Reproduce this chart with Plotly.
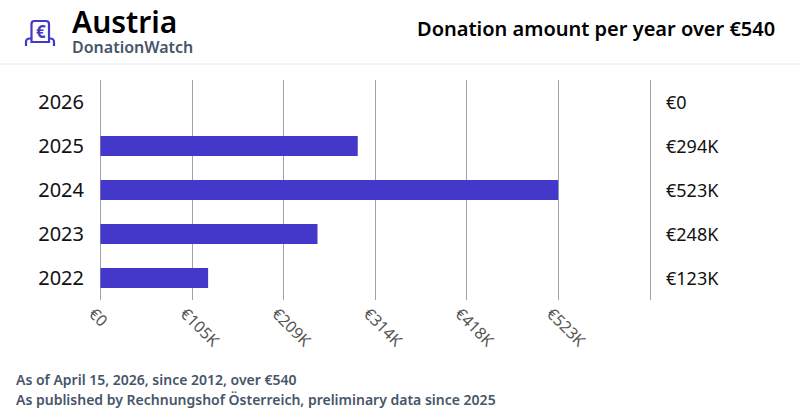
import plotly.graph_objects as go

years = ["2022", "2023", "2024", "2025", "2026"]
amounts = [123000, 248000, 523000, 294000, 0]
value_labels = ["€123K", "€248K", "€523K", "€294K", "€0"]
tick_values = [0, 104600, 209200, 313800, 418400, 523000]
tick_labels = ["€0", "€105K", "€209K", "€314K", "€418K", "€523K"]

FONT = "Noto Sans"
BAR = "#4338ca"
SLATE = "#475569"
GRID = "#9ca3af"
W, H = 800, 418
L, R, T, B = 100, 650, 80, 300


def px(x):
    return (x - L) / (R - L)


def py(y):
    return (B - y) / (B - T)


def text(x, y, s, size, color, weight=400, anchor="left"):
    return dict(
        x=px(x), y=py(y), xref="paper", yref="paper", text=s, showarrow=False,
        xanchor=anchor, yanchor="middle", borderpad=0,
        font=dict(family=FONT, size=size, color=color, weight=weight),
    )


def icon_path(*cmds):
    # each command is a letter followed by pixel pairs measured from the top-left of the page
    out = []
    for c in cmds:
        coords = " ".join(f"{px(c[i]):.5f},{py(c[i + 1]):.5f}" for i in range(1, len(c), 2))
        out.append(f"{c[0]}{coords}")
    return " ".join(out)


fig = go.Figure(
    go.Bar(
        x=amounts, y=years, orientation="h", marker=dict(color=BAR, line_width=0),
        width=0.4545, hoverinfo="skip",
    )
)

annotations = [
    text(71, 22, "Austria", 30, "#000000", 600),
    text(71, 47, "DonationWatch", 16, SLATE, 600),
    text(776, 29, "Donation amount per year over €540", 20, "#000000", 600, "right"),
    text(15, 379, "As of April 15, 2026, since 2012, over €540", 14, SLATE, 600),
    text(15, 399, "As published by Rechnungshof Österreich, preliminary data since 2025", 14, SLATE, 600),
    text(41, 32, "€", 17, BAR, 700, "center"),
]
for i, label in enumerate(value_labels):
    annotations.append(
        dict(
            x=px(665), y=i, xref="paper", yref="y", text=label, showarrow=False,
            xanchor="left", yanchor="middle", borderpad=0,
            font=dict(family=FONT, size=18, color="#111111"),
        )
    )

icon_line = dict(color=BAR, width=2.2)
shapes = [
    # header rule
    dict(type="line", xref="paper", yref="paper", x0=px(0), x1=px(800), y0=py(64), y1=py(64),
         line=dict(color="#e2e8f0", width=1)),
    # closing gridline at the far end of the value axis
    dict(type="line", xref="paper", yref="paper", x0=px(650.5), x1=px(650.5), y0=0, y1=1, layer="below",
         line=dict(color=GRID, width=1)),
    # receipt outline of the logo
    dict(type="path", xref="paper", yref="paper", line=icon_line,
         path=icon_path(("M", 31.5, 42), ("L", 31.5, 24), ("Q", 31.5, 21, 34.5, 21), ("L", 46, 21),
                        ("Q", 49, 21, 49, 24), ("L", 49, 42), ("Z",))),
    # left and right feet of the logo
    dict(type="path", xref="paper", yref="paper", line=icon_line,
         path=icon_path(("M", 26, 46), ("L", 26, 42), ("Q", 26, 38.5, 30, 38.5), ("L", 32, 38.5))),
    dict(type="path", xref="paper", yref="paper", line=icon_line,
         path=icon_path(("M", 54, 46), ("L", 54, 42), ("Q", 54, 38.5, 50, 38.5), ("L", 48, 38.5))),
]

fig.update_layout(
    width=W, height=H, autosize=False,
    margin=dict(l=L, r=W - R, t=T, b=H - B, pad=0),
    paper_bgcolor="white", plot_bgcolor="white",
    font=dict(family=FONT),
    showlegend=False,
    annotations=annotations,
    shapes=shapes,
    xaxis=dict(
        range=[-570, 628000], tickmode="array", tickvals=tick_values, ticktext=tick_labels,
        tickangle=45, showgrid=True, gridcolor=GRID, gridwidth=1,
        zeroline=True, zerolinecolor=GRID, zerolinewidth=1,
        showline=False, ticks="", ticklabelshift=-7,
        tickfont=dict(family=FONT, size=16, color="#555555"),
    ),
    yaxis=dict(
        type="category", categoryorder="array", categoryarray=years, range=[-0.5, 4.5],
        showgrid=False, zeroline=False, showline=False, ticks="", ticklabelstandoff=15,
        tickfont=dict(family=FONT, size=20, color="#111111"),
    ),
)

fig.write_html("out.html", config=dict(displayModeBar=False))
